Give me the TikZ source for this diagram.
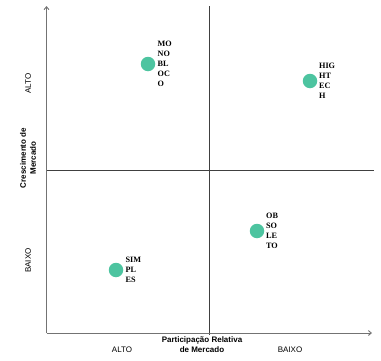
\documentclass[tikz,border=0pt]{standalone}
\usepackage{fontspec}
\setmainfont{Liberation Serif}
\setsansfont{Liberation Sans}
\usetikzlibrary{arrows.meta,positioning}
\definecolor{dotgreen}{RGB}{77,196,160}
\tikzset{
    axis color/.style={black!55},
    axis style/.style={axis color,line width=.9pt},
    arr/.style={->,>={Straight Barb[length=3pt,width=5pt]}},
    divider/.style={black!75,line width=.6pt},
    dot/.style={circle,fill=dotgreen,inner sep=0pt,minimum size=14.5pt},
    dot label/.style={inner sep=0pt,align=left,font=\fontsize{8.2}{10}\selectfont\bfseries},
    axis label/.style={inner sep=0pt,font=\sffamily\fontsize{8}{9}\selectfont},
    axis title/.style={inner sep=0pt,align=center,font=\sffamily\bfseries\fontsize{8}{10}\selectfont},
}
\begin{document}
\begin{tikzpicture}[x=1pt,y=1pt]
    \useasboundingbox (0,0) rectangle (381,360);

    \coordinate (O) at (46.5,27);
    \coordinate (ytop) at (46.5,354);
    \coordinate (xend) at (372,27);
    \coordinate (vtop) at (209,354);
    \coordinate (vbot) at (209,25);
    \coordinate (hleft) at (46.5,190);
    \coordinate (hright) at (374,190);

    \draw[divider] (vtop) -- (vbot);
    \draw[divider] (hleft) -- (hright);
    \draw[axis style,arr] (O) -- (ytop);
    \draw[axis style,arr] (O) -- (xend);

    \node[dot] (mono) at (148,296) {};
    \node[dot] (high) at (310,279) {};
    \node[dot] (obso) at (257,129) {};
    \node[dot] (simp) at (116,90) {};

    \node[dot label,right=2pt of mono] {MO\\NO\\BL\\OC\\O};
    \node[dot label,right=1.5pt of high] {HIG\\HT\\EC\\H};
    \node[dot label,right=1.5pt of obso] {OB\\SO\\LE\\TO};
    \node[dot label,right=2pt of simp] {SIM\\PL\\ES};

    \node[axis label,rotate=90] (yhigh) at (28,276.5) {ALTO};
    \node[axis label,rotate=90] (ylow) at (28,99.5) {BAIXO};
    \node[axis title,rotate=90] (ytitle) at (28,202) {Crescimento de\\Mercado};
    \node[axis label] (xhigh) at (122,10) {ALTO};
    \node[axis label] (xlow) at (290,10) {BAIXO};
    \node[axis title] (xtitle) at (202,15) {Participação Relativa\\de Mercado};
\end{tikzpicture}
\end{document}
